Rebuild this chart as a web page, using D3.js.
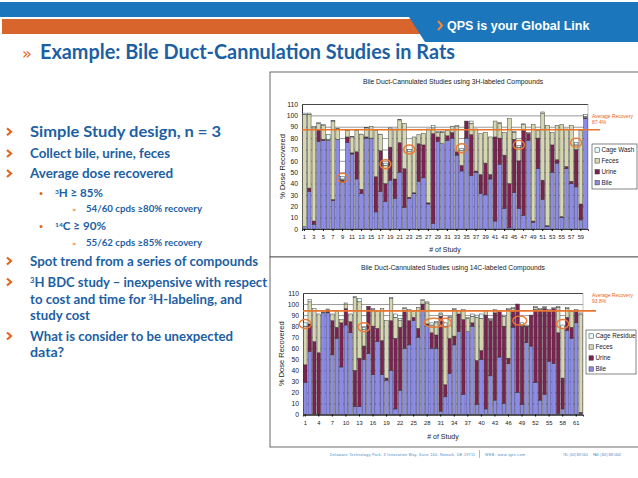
<!DOCTYPE html>
<html>
<head>
<meta charset="utf-8">
<script src="https://cdn.jsdelivr.net/npm/d3@7"></script>
<style>
body { margin: 0; background: #fff; }
svg { display: block; }
</style>
</head>
<body>
<svg id="slide" width="638" height="478"></svg>
<script>
// ---- data: 3H-labeled compounds (60 studies), % dose per matrix
const bile3H  = [2,33,4,77,78,78,25,79,41,76,66,44,31,80,80,15,33,24,43,27,50,19,27,31,42,45,22,5,77,75,78,80,65,51,80,47,50,31,30,44,7,57,18,1,32,18,12,78,6,53,26,2,50,58,10,53,40,37,8,97]
const urine3H = [0,3,3,10,1,0,1,0,2,5,1,24,4,1,0,31,36,16,29,17,26,34,1,1,33,29,1,79,4,0,4,5,3,5,15,36,1,17,28,4,74,23,47,39,47,42,75,6,1,27,17,1,24,3,1,2,2,33,14,1]
const feces3H = [99,65,82,6,12,1,69,9,1,6,14,19,48,8,10,41,14,16,16,44,20,40,40,49,8,10,65,5,4,10,5,5,22,13,0,10,37,36,27,33,14,13,20,57,6,12,5,1,85,7,59,88,11,30,81,33,49,4,65,1]
const cage3H  = [1,1,1,1,1,4,0.5,0.5,2,0.5,0.5,0.5,0.5,0.5,0,0,0.5,2,1,0,0.5,0,2,0,0,0,0,2,1,1,0,0.5,1,2,0,2,0,0,0,0,0,0.5,0,0,1,1.5,0.5,0,0,0,1,0,0,0,0,0,0,2,0,2]
const ticks3H = [1,3,5,7,9,11,13,15,17,19,21,23,25,27,29,31,33,35,37,39,41,43,45,47,49,51,53,55,57,59]
const circles3H = [[9,45],[18,57],[23,70],[34,71],[46,74],[58,76]]
const avg3H = 87.4

// ---- data: 14C-labeled compounds (62 studies)
const bile14C  = [29,57,0,0,92,92,54,69,43,81,74,7,7,50,55,36,66,36,31,40,5,22,60,63,85,70,95,81,60,60,3,16,37,63,75,18,75,80,9,50,5,35,13,52,10,46,79,20,9,65,62,29,13,18,48,46,1,5,76,69,83,1]
const urine14C = [16,25,66,56,0,3,31,10,40,15,10,33,44,12,43,44,12,31,2,45,64,57,33,22,3,8,5,1,14,12,86,11,32,8,16,68,0,3,40,8,85,50,79,41,70,5,14,80,71,15,28,66,82,78,45,50,73,28,12,10,10,1]
const feces14C = [35,20,28,35,0.5,0,6,14,3,4,7,66,51,15,0,15,15,29,52,20,19,6,3,9,5,19,3,19,7,11,2,53,19,24,3,8,12,6,39,29,4,1,2,0,9,44,3,0,1,1,0,2,0,1,1,0,23,45,8,14,1,89]
const cage14C  = [3,2,2,0,0.5,0.5,0,0,0,1,0,1,3,2,0,1,0,0,0,1,3,2,1,1,0,0,1,1,2,1,1,3,1,1,0,1,1,2,2,4,0,1,1,0,1,1,1,0,2,0,0,1,1,1,1,1,1,3,1,1,1,1]
const ticks14C = [1,4,7,10,13,16,19,22,25,28,31,34,37,40,43,46,49,52,55,58,61]
const circles14C = [[1,82,6],[14,79,6],[29.5,83,10],[32,83,6],[48.5,85,7],[58,82,6]]
const avg14C = 93.8

const svg = d3.select("#slide")
const blue = "#1d5fa3"
const orange = "#e3651d"

// ---- slide header
svg.append("rect").attr("x", 0).attr("y", 2).attr("width", 638).attr("height", 15).attr("fill", "#1b76bc")
svg.append("path").attr("d", "M2,19 L411,19 L421,34 L2,34 Z").attr("fill", "#d8652b")
svg.append("path").attr("d", "M409,17 L638,17 L638,42 L425,42 Z").attr("fill", "#1b76bc")
svg.append("path").attr("d", "M438,21 L442,25.5 L438,30").attr("fill", "none").attr("stroke", "#f08a3c").attr("stroke-width", 2)
svg.append("text").attr("x", 447).attr("y", 30).attr("fill", "#fff")
    .style("font", "bold 12.5px 'Liberation Sans'").text("QPS is your Global Link")

// ---- title
svg.append("text").attr("x", 22).attr("y", 59).attr("fill", orange)
    .style("font", "16px 'DejaVu Sans'").text("»")
svg.append("text").attr("x", 40).attr("y", 59).attr("fill", blue)
    .attr("textLength", 415).attr("lengthAdjust", "spacingAndGlyphs")
    .style("font", "bold 20px Lato").text("Example: Bile Duct-Cannulation Studies in Rats")

// ---- bullet text
let bullets = [
    {lvl: 0, y: 137, size: 16, w: 191, parts: [["Simple Study design, n = 3"]]},
    {lvl: 0, y: 158, size: 13.5, w: 140, parts: [["Collect bile, urine, feces"]]},
    {lvl: 0, y: 178, size: 13.5, w: 143, parts: [["Average dose recovered"]]},
    {lvl: 1, y: 197, size: 11, w: 48, parts: [["3", "sup"], ["H ≥ 85%"]]},
    {lvl: 2, y: 212, size: 9, w: 116, parts: [["54/60 cpds ≥80% recovery"]]},
    {lvl: 1, y: 230, size: 11, w: 51, parts: [["14", "sup"], ["C ≥ 90%"]]},
    {lvl: 2, y: 245.5, size: 9, w: 116, parts: [["55/62 cpds ≥85% recovery"]]},
    {lvl: 0, y: 265.5, size: 13.5, w: 228, parts: [["Spot trend from a series of compounds"]]},
    {lvl: 0, y: 286.5, size: 13.5, w: 237, parts: [["3", "sup"], ["H BDC study – inexpensive with respect"]]},
    {lvl: -1, y: 303.5, size: 13.5, w: 212, parts: [["to cost and time for "], ["3", "sup"], ["H-labeling, and"]]},
    {lvl: -1, y: 320, size: 13.5, w: 60, parts: [["study cost"]]},
    {lvl: 0, y: 340.5, size: 13.5, w: 203, parts: [["What is consider to be unexpected"]]},
    {lvl: -1, y: 357, size: 13.5, w: 34, parts: [["data?"]]}
]
bullets.forEach(b => {
    let tx = b.lvl == 1 ? 55 : b.lvl == 2 ? 86 : 30
    if (b.lvl == 0) {
        let cy = b.y - b.size * 0.33
        svg.append("path").attr("d", `M7,${cy - 3.5} L11,${cy} L7,${cy + 3.5}`)
            .attr("fill", "none").attr("stroke", orange).attr("stroke-width", 2.2)
    }
    if (b.lvl == 1) svg.append("circle").attr("cx", 41).attr("cy", b.y - 3.5).attr("r", 1.5).attr("fill", orange)
    if (b.lvl == 2) svg.append("text").attr("x", 72).attr("y", b.y).attr("fill", orange)
        .style("font", "7px 'DejaVu Sans'").text("»")
    let t = svg.append("text").attr("x", tx).attr("y", b.y).attr("fill", blue)
        .attr("textLength", b.w).attr("lengthAdjust", "spacingAndGlyphs")
        .style("font", `bold ${b.size}px Lato`)
    b.parts.forEach(p => {
        let s = t.append("tspan").text(p[0])
        if (p[1]) s.attr("dy", -b.size * 0.28).style("font-size", (b.size * 0.58) + "px")
        else if (t.selectAll("tspan").size() > 1) s.attr("dy", b.size * 0.28)
    })
})

// ---- footer
let foot = svg.append("g").attr("fill", "#3f7fc1").style("font", "3.6px 'Liberation Sans'")
foot.append("text").attr("x", 330).attr("y", 456).attr("textLength", 145).text("Delaware Technology Park, 3 Innovation Way, Suite 240, Newark, DE 19711")
foot.append("rect").attr("x", 479).attr("y", 450).attr("width", 0.5).attr("height", 8)
foot.append("text").attr("x", 485).attr("y", 456).attr("textLength", 40).text("WEB: www.qps.com")
foot.append("text").attr("x", 563).attr("y", 456).attr("textLength", 25).attr("lengthAdjust", "spacingAndGlyphs").text("TEL: (302) 369-5601")
foot.append("text").attr("x", 593).attr("y", 456).attr("textLength", 28).attr("lengthAdjust", "spacingAndGlyphs").text("FAX: (302) 369-5602")

// ---- stacked bar charts
const colors = {bile: "#8c8ce8", urine: "#7a2350", feces: "#d6d6b0", cage: "#e6fbfb"}

function drawChart(o) {
    let g = svg.append("g")
    let cats = o.bile.map((d, i) => i + 1)
    let rows = cats.map((c, i) => ({study: c, bile: o.bile[i], urine: o.urine[i], feces: o.feces[i], cage: o.cage[i]}))
    let series = d3.stack().keys(["bile", "urine", "feces", "cage"])(rows)

    let x = d3.scaleBand().domain(cats).range([o.x0, o.x1]).paddingInner(0.2).paddingOuter(0.1)
    let y = d3.scaleLinear().domain([0, 110]).range([o.yb, o.yt])
    let xc = s => x(1) + x.bandwidth() / 2 + (s - 1) * x.step()

    g.append("rect").attr("x", o.fx).attr("y", o.fy).attr("width", o.fw).attr("height", o.fh)
        .attr("fill", "#fff").attr("stroke", "#444").attr("stroke-width", 0.8)

    g.append("text").attr("x", 453).attr("y", o.titleY).attr("text-anchor", "middle").attr("fill", "#222")
        .style("font", "6.8px 'Liberation Sans'").text(o.title)

    // grid + y axis
    let ya = g.append("g").attr("transform", `translate(${o.x0},0)`)
        .call(d3.axisLeft(y).tickValues([0,10,20,30,40,50,60,70,80,90,100,110]).tickSize(-(o.x1 - o.x0)).tickPadding(4))
    ya.select(".domain").attr("stroke", "#333")
    ya.selectAll(".tick line").attr("stroke", "#555").attr("stroke-width", 0.6)
    ya.selectAll("text").style("font", "6.8px 'Liberation Sans'").attr("fill", "#222")
    g.append("line").attr("x1", o.x1).attr("x2", o.x1).attr("y1", y(110)).attr("y2", y(0)).attr("stroke", "#999").attr("stroke-width", 0.6)

    g.append("text").attr("transform", `translate(${o.ylabX},${(y(0) + y(110)) / 2}) rotate(-90)`)
        .attr("text-anchor", "middle").attr("fill", "#222").style("font", "7.5px 'Liberation Sans'").text("% Dose Recovered")

    // bars
    g.append("g").selectAll("g").data(series).join("g")
        .attr("fill", d => colors[d.key])
        .selectAll("rect").data(d => d.filter(v => v[1] > v[0])).join("rect")
        .attr("x", d => x(d.data.study)).attr("width", x.bandwidth())
        .attr("y", d => y(d[1])).attr("height", d => y(d[0]) - y(d[1]))
        .attr("stroke", "#333").attr("stroke-width", 0.45)

    // x axis
    let xa = g.append("g").attr("transform", `translate(0,${y(0)})`)
        .call(d3.axisBottom(x).tickValues(o.ticks).tickSize(2).tickPadding(4))
    xa.select(".domain").attr("stroke", "#333")
    xa.selectAll("text").style("font", "5.8px 'Liberation Sans'").attr("fill", "#222")
    g.append("text").attr("x", (o.x0 + o.x1) / 2).attr("y", o.xlabY).attr("text-anchor", "middle").attr("fill", "#222")
        .style("font", "7px 'Liberation Sans'").text("# of Study")

    // average recovery line
    g.append("line").attr("x1", o.x0).attr("x2", o.avgEnd).attr("y1", y(o.avg)).attr("y2", y(o.avg))
        .attr("stroke", "#e8742e").attr("stroke-width", 1.6)
    g.append("text").attr("x", 592).attr("y", o.avgLabY).attr("fill", "#e8641b")
        .style("font", "5px 'Liberation Sans'").text("Average Recovery")
    g.append("text").attr("x", 592).attr("y", o.avgLabY + 5.5).attr("fill", "#e8641b")
        .style("font", "5px 'Liberation Sans'").text(o.avg.toFixed(1) + "%")

    // circled outliers
    g.selectAll("ellipse").data(o.circles).join("ellipse")
        .attr("cx", d => xc(d[0])).attr("cy", d => y(d[1]))
        .attr("rx", d => d[2] || 5.5).attr("ry", 4.5)
        .attr("fill", "none").attr("stroke", "#ea7a35").attr("stroke-width", 1.4)

    // legend
    let lg = g.append("g")
    lg.append("rect").attr("x", o.lx).attr("y", o.ly).attr("width", o.lw).attr("height", o.lh)
        .attr("fill", "#fff").attr("stroke", "#333").attr("stroke-width", 0.6)
    o.legend.forEach((name, i) => {
        let key = ["cage", "feces", "urine", "bile"][i]
        let yy = o.ly + 6 + i * o.lstep
        lg.append("rect").attr("x", o.lx + 3).attr("y", yy - 2.2).attr("width", 4.4).attr("height", 4.4)
            .attr("fill", colors[key]).attr("stroke", "#333").attr("stroke-width", 0.5)
        lg.append("text").attr("x", o.lx + 9.5).attr("y", yy + 2.2).attr("fill", "#222")
            .style("font", "6.3px 'Liberation Sans'").text(name)
    })
}

drawChart({
    bile: bile3H, urine: urine3H, feces: feces3H, cage: cage3H, ticks: ticks3H, circles: circles3H, avg: avg3H,
    title: "Bile Duct-Cannulated Studies using 3H-labeled Compounds",
    fx: 270, fy: 72, fw: 370, fh: 185,
    x0: 302, x1: 588, yb: 229, yt: 104, titleY: 84, ylabX: 285, xlabY: 252,
    avgEnd: 600, avgLabY: 118,
    lx: 592, ly: 144, lw: 45, lh: 45, lstep: 10.9,
    legend: ["Cage Wash", "Feces", "Urine", "Bile"]
})

drawChart({
    bile: bile14C, urine: urine14C, feces: feces14C, cage: cage14C, ticks: ticks14C, circles: circles14C, avg: avg14C,
    title: "Bile Duct-Cannulated Studies using 14C-labeled Compounds",
    fx: 270, fy: 257, fw: 370, fh: 190,
    x0: 303, x1: 583, yb: 414.5, yt: 293, titleY: 270, ylabX: 284, xlabY: 439,
    avgEnd: 596, avgLabY: 297,
    lx: 586, ly: 330, lw: 50, lh: 44, lstep: 11,
    legend: ["Cage Residue", "Feces", "Urine", "Bile"]
})
</script>
</body>
</html>
